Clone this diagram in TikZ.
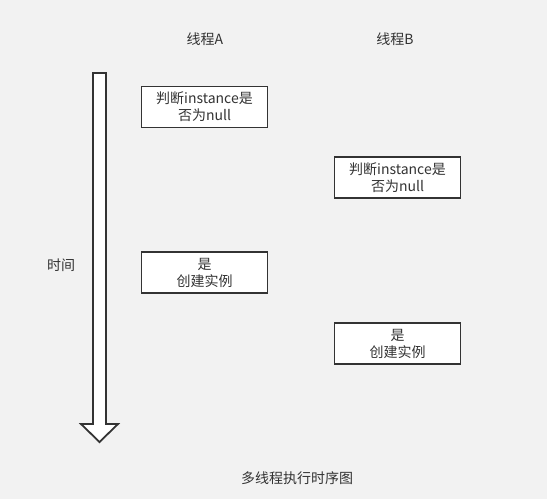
\documentclass[tikz,border=0pt]{standalone}
\usepackage{fontspec}
\setmainfont{Noto Sans CJK SC}
\begin{document}
\begin{tikzpicture}[x=1pt,y=-1pt,
  box/.style={draw=black!80,line width=1.8pt,fill=white,minimum width=126pt,minimum height=41pt,inner sep=0pt,align=center,font=\fontsize{14}{17}\selectfont,text=black!80},
  lbl/.style={font=\fontsize{14}{17}\selectfont,text=black!80,inner sep=0pt}]
\fill[black!5] (0,0) rectangle (547,499);
\useasboundingbox (0,0) rectangle (547,499);
% time arrow
\draw[draw=black!80,line width=1.8pt,fill=white,line join=miter]
  (93,73) -- (106,73) -- (106,424) -- (118,424) -- (99.5,442) -- (81,424) -- (93,424) -- cycle;
\node[lbl] (ta) at (205,39) {线程A};
\node[lbl] (tb) at (395,39) {线程B};
\node[lbl] (time) at (61,265) {时间};
\node[lbl] (title) at (297,478) {多线程执行时序图};
\node[box] (a1) at (204.5,107) {判断instance是\\否为null};
\node[box] (b1) at (397.5,177.5) {判断instance是\\否为null};
\node[box] (a2) at (204.5,272.5) {是\\创建实例};
\node[box] (b2) at (397.5,343.5) {是\\创建实例};
\end{tikzpicture}
\end{document}
